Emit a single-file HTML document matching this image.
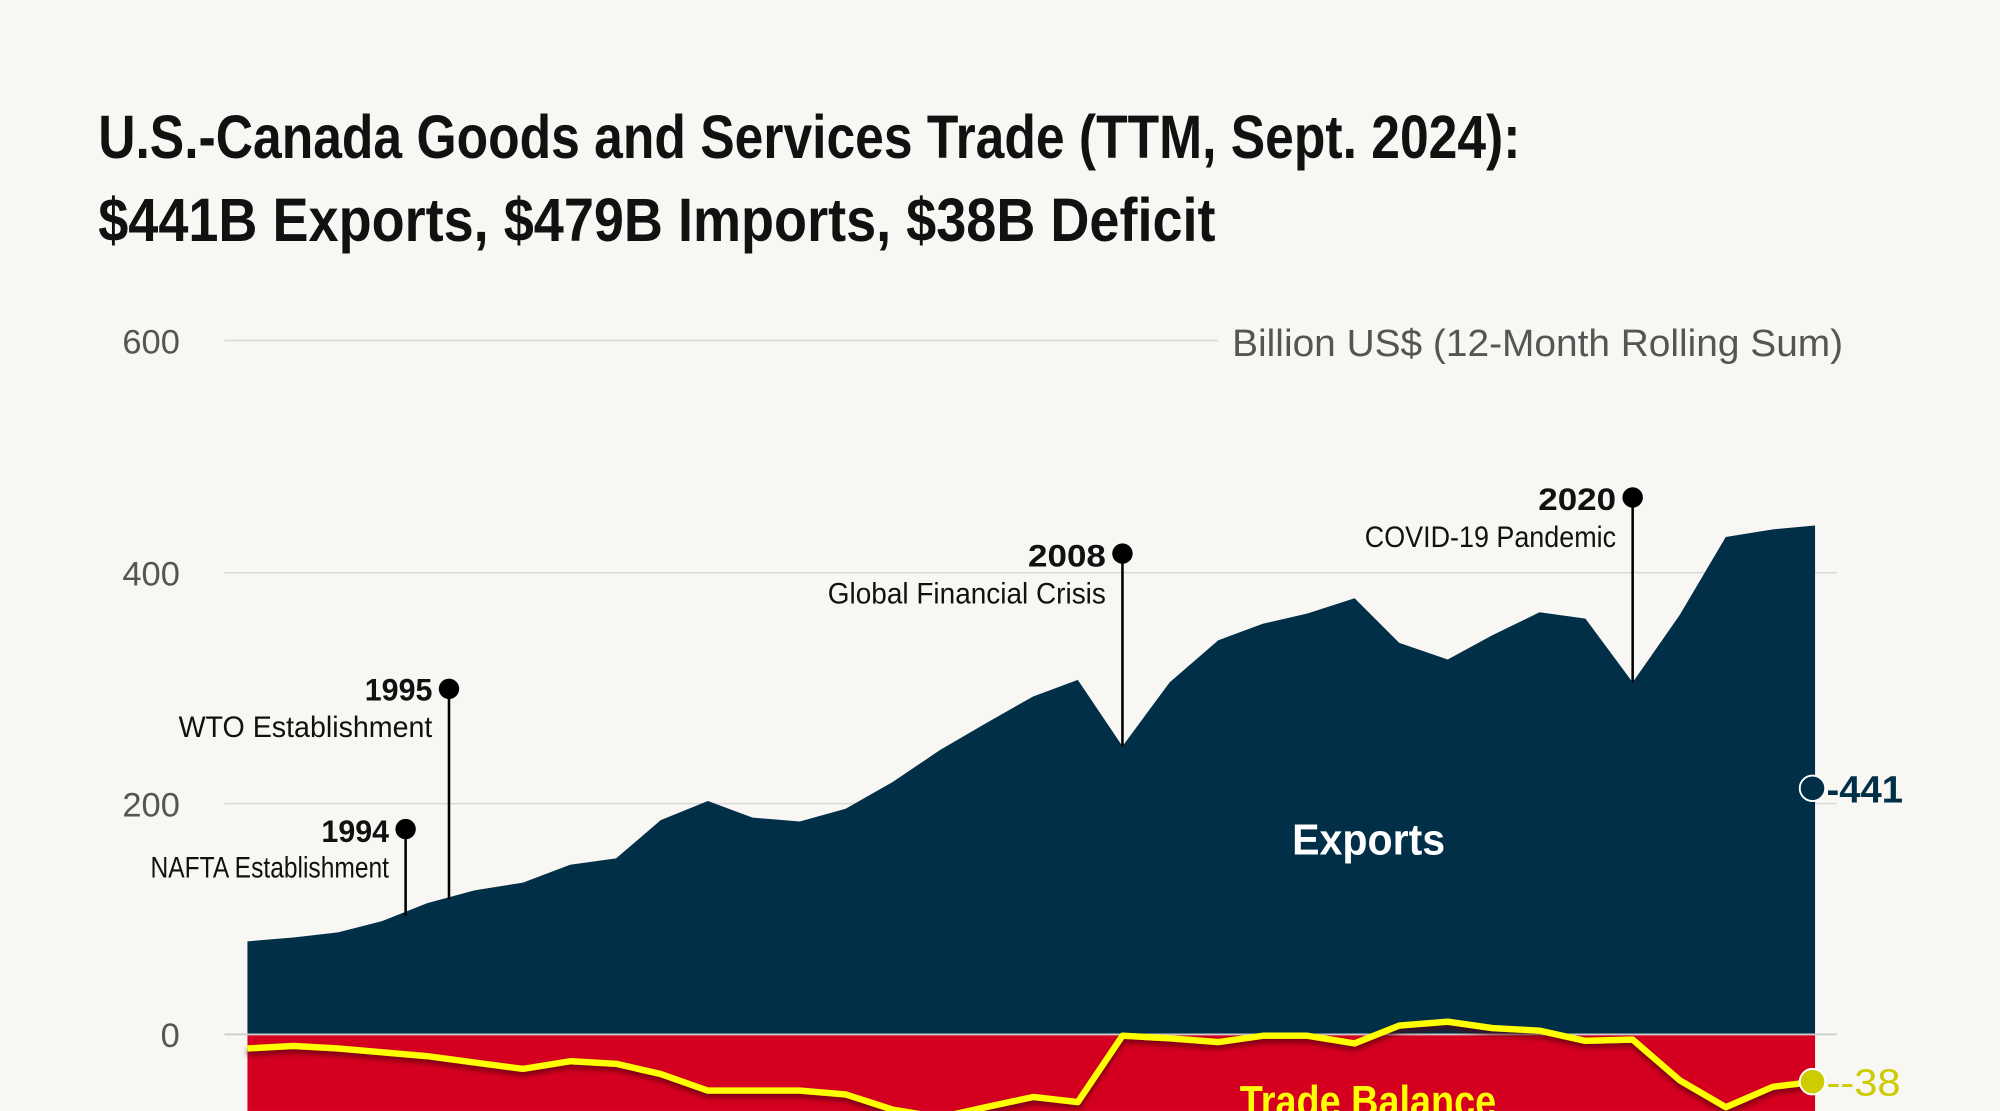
<!DOCTYPE html>
<html><head><meta charset="utf-8"><style>
html,body{margin:0;padding:0;background:#f8f7f3;}
svg{display:block}
text{font-family:"Liberation Sans Narrow","Liberation Sans",sans-serif}
</style></head><body>
<svg width="2000" height="1111" viewBox="0 0 1568 871" xmlns="http://www.w3.org/2000/svg">
<defs>
<filter id="sh" x="-5%" y="-50%" width="110%" height="200%"><feDropShadow dx="0" dy="3" stdDeviation="2" flood-color="#5a0010" flood-opacity="0.8"/></filter>
</defs>
<rect width="1568" height="871" fill="#f8f7f3"/>
<text x="77" y="124" font-size="48" font-weight="bold" fill="#111" textLength="1115" lengthAdjust="spacingAndGlyphs">U.S.-Canada Goods and Services Trade (TTM, Sept. 2024):</text>
<text x="77" y="189" font-size="48" font-weight="bold" fill="#111" textLength="876" lengthAdjust="spacingAndGlyphs">$441B Exports, $479B Imports, $38B Deficit</text>
<g stroke="#d8d8d4" stroke-width="1.2">
<line x1="176" y1="267" x2="955" y2="267"/>
<line x1="176" y1="449" x2="1440" y2="449"/>
<line x1="176" y1="630" x2="1440" y2="630"/>
</g>
<g font-size="27" fill="#555" text-anchor="end">
<text x="141" y="277">600</text><text x="141" y="459">400</text><text x="141" y="640">200</text><text x="141" y="821">0</text>
</g>
<text x="966" y="279" font-size="30" fill="#555" textLength="479" lengthAdjust="spacingAndGlyphs">Billion US$ (12-Month Rolling Sum)</text>
<polygon fill="#002f47" points="194,811 194,738 230,735 265,731 300,722 335,708 372,698 410,692 447,678 483,673 518,643 555,628 590,641 627,644 663,634 700,613 737,588 773,567 810,546 845,533 880,585 917,535 955,502 990,489 1025,481 1062,469 1097,504 1135,517 1170,498 1207,480 1243,485 1280,535 1317,482 1353,421 1390,415 1423,412 1423,811"/>
<rect x="194" y="811" width="1229" height="60" fill="#d50020"/>
<line x1="176" y1="811" x2="1440" y2="811" stroke="#ccc" stroke-width="1.5"/>
<polyline fill="none" stroke="#ffff00" stroke-width="5" stroke-linejoin="round" filter="url(#sh)" points="194,822 230,820 265,822 300,825 335,828 372,833 410,838 447,832 483,834 518,842 555,855 590,855 627,855 663,858 700,870 737,876 773,868 810,860 845,864 880,812 917,814 955,817 990,812 1025,812 1062,818 1097,804 1135,801 1170,806 1207,808 1243,816 1280,815 1317,847 1353,868 1390,852 1423,848"/>
<text x="1013" y="670" font-size="34" font-weight="bold" fill="#fff" textLength="120" lengthAdjust="spacingAndGlyphs">Exports</text>
<text x="972" y="875" font-size="34" font-weight="bold" fill="#ffff00" textLength="201" lengthAdjust="spacingAndGlyphs">Trade Balance</text>
<g stroke="#000" stroke-width="2">
<line x1="318" y1="650" x2="318" y2="718"/><line x1="352" y1="540" x2="352" y2="705"/>
<line x1="880" y1="434" x2="880" y2="585"/><line x1="1280" y1="390" x2="1280" y2="535"/>
</g>
<g fill="#000"><circle cx="318" cy="650" r="8"/><circle cx="352" cy="540" r="8"/><circle cx="880" cy="434" r="8"/><circle cx="1280" cy="390" r="8"/></g>
<g fill="#111" lengthAdjust="spacingAndGlyphs">
<text x="252" y="660" font-size="25" font-weight="bold" textLength="53" lengthAdjust="spacingAndGlyphs">1994</text>
<text x="118" y="688" font-size="23" textLength="187" lengthAdjust="spacingAndGlyphs">NAFTA Establishment</text>
<text x="286" y="549" font-size="25" font-weight="bold" textLength="53" lengthAdjust="spacingAndGlyphs">1995</text>
<text x="140" y="578" font-size="23" textLength="199" lengthAdjust="spacingAndGlyphs">WTO Establishment</text>
<text x="806" y="444" font-size="25" font-weight="bold" textLength="61" lengthAdjust="spacingAndGlyphs">2008</text>
<text x="649" y="473" font-size="23" textLength="218" lengthAdjust="spacingAndGlyphs">Global Financial Crisis</text>
<text x="1206" y="400" font-size="25" font-weight="bold" textLength="61" lengthAdjust="spacingAndGlyphs">2020</text>
<text x="1070" y="429" font-size="23" textLength="197" lengthAdjust="spacingAndGlyphs">COVID-19 Pandemic</text>
</g>
<circle cx="1421" cy="618" r="10" fill="#002f47" stroke="#fff" stroke-width="1.5"/>
<text x="1432" y="629" font-size="30" font-weight="bold" fill="#002f47" textLength="60" lengthAdjust="spacingAndGlyphs">-441</text>
<circle cx="1421" cy="848" r="10" fill="#cccc00" stroke="#fff" stroke-width="1.5"/>
<text x="1432" y="859" font-size="30" fill="#cccc00" textLength="58" lengthAdjust="spacingAndGlyphs">--38</text>
</svg>
</body></html>
